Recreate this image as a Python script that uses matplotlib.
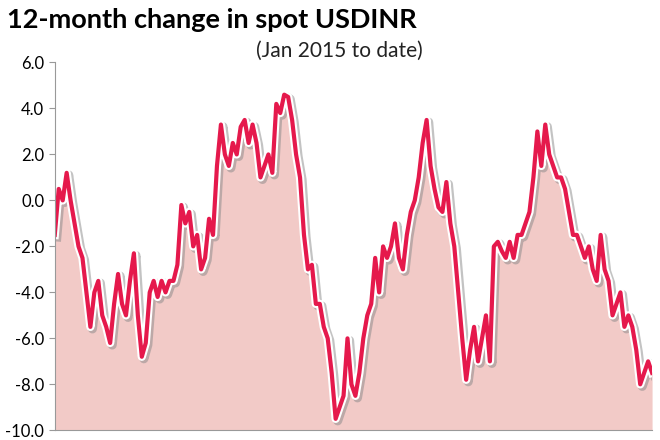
import matplotlib
matplotlib.use("Agg")
import matplotlib.pyplot as plt
import matplotlib.patheffects as pe
import numpy as np

values = [-1.5, 0.5, 0.0, 1.2, 0.0, -1.0, -2.0, -2.5, -4.0, -5.5, -4.0, -3.5, -5.0, -5.5, -6.2,
          -4.5, -3.2, -4.5, -5.0, -3.5, -2.3, -5.0, -6.8, -6.2, -4.0, -3.5, -4.2, -3.5, -4.0,
          -3.5, -3.5, -2.8, -0.2, -1.0, -0.5, -2.0, -1.5, -3.0, -2.5, -0.8, -1.5, 1.5, 3.3,
          2.0, 1.5, 2.5, 2.0, 3.2, 3.5, 2.5, 3.3, 2.5, 1.0, 1.5, 2.0, 1.2, 4.2, 3.8, 4.6, 4.5,
          3.5, 2.0, 1.0, -1.5, -3.0, -2.8, -4.5, -4.5, -5.5, -6.0, -7.5, -9.5, -9.0, -8.5,
          -6.0, -8.0, -8.5, -7.5, -6.0, -5.0, -4.5, -2.5, -4.0, -2.0, -2.5, -2.0, -1.0, -2.5,
          -3.0, -1.5, -0.5, 0.0, 1.0, 2.5, 3.5, 1.5, 0.5, -0.3, -0.5, 0.8, -1.0, -2.0, -4.0,
          -6.0, -7.8, -6.5, -5.5, -7.0, -6.0, -5.0, -7.0, -2.0, -1.8, -2.2, -2.5, -1.8, -2.5,
          -1.5, -1.5, -1.0, -0.5, 1.0, 3.0, 1.5, 3.3, 2.0, 1.5, 1.0, 1.0, 0.5, -0.5, -1.5,
          -1.5, -2.0, -2.5, -2.0, -3.0, -3.5, -1.5, -3.0, -3.5, -5.0, -4.5, -4.0, -5.5, -5.0,
          -5.5, -6.5, -8.0, -7.5, -7.0, -7.5]
yticks = [6.0, 4.0, 2.0, 0.0, -2.0, -4.0, -6.0, -8.0, -10.0]
title = "12-month change in spot USDINR"
subtitle = "(Jan 2015 to date)"

x = np.arange(len(values))
fig = plt.figure(figsize=(6.6, 4.4), dpi=100)
ax = fig.add_axes([0.083, 0.022, 0.905, 0.836])
ax.fill_between(x, values, -10, color="#f2cac7", lw=0)
ax.plot(x, values, color="#e5194c", lw=3.0,
        path_effects=[pe.SimpleLineShadow(offset=(1.5, -1.5), shadow_color="#888", alpha=0.5, linewidth=6.5),
                      pe.Stroke(linewidth=6, foreground="white"), pe.Normal()])
ax.set_xlim(0, len(values) - 1)
ax.set_ylim(-10, 6)
ax.set_yticks(yticks)
ax.set_yticklabels([f"{v:.1f}" for v in yticks], fontsize=12, family="Lato")
ax.set_xticks([])
for s in ["top", "right"]:
    ax.spines[s].set_visible(False)
ax.spines["left"].set_color("#999")
ax.spines["bottom"].set_color("#999")
ax.tick_params(axis="y", color="#999", length=4)
fig.text(0.01, 0.955, title, fontsize=19.5, fontweight="bold", family="Lato", va="center")
fig.text(0.64, 0.885, subtitle, fontsize=15, family="Lato", ha="right", va="center", color="#222")
fig.savefig("out.png")
